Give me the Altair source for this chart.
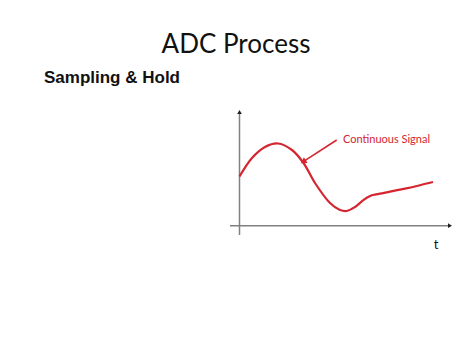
import altair as alt
import pandas as pd

# Continuous signal (time t, amplitude a)
sig_t = [0.0, 0.625, 1.275, 1.925, 2.625, 3.2, 3.775, 4.525, 5.0, 5.36, 5.76, 6.19, 6.53, 6.775, 7.025, 7.525, 8.275, 9.025, 9.675]
sig_a = [4.92, 6.77, 7.87, 8.22, 7.57, 6.27, 4.27, 2.27, 1.6, 1.47, 1.85, 2.55, 2.97, 3.11, 3.2, 3.41, 3.71, 4.05, 4.37]

# axis extents (data units)
x_axis_t = [-0.475, 10.525]
y_axis_a = [-0.93, 11.37]

# annotation arrow (tail -> head)
arrow_t = [4.86, 3.19]
arrow_a = [8.57, 6.40]
label_text = ["Continuous Signal"]
label_t = [5.175]
label_a = [8.57]

RED = "#d42530"
GRAY = "#808080"

xs = alt.Scale(domain=[-11.975, 11.725], nice=False, zero=False)
ys = alt.Scale(domain=[-12.93, 22.57], nice=False, zero=False)

def X(f="t"):
    return alt.X(f"{f}:Q", scale=xs, axis=None)

def Y(f="a"):
    return alt.Y(f"{f}:Q", scale=ys, axis=None)

sig_df = pd.DataFrame({"t": sig_t, "a": sig_a})
xaxis_df = pd.DataFrame({"t": [x_axis_t[0]], "t2": [x_axis_t[1]], "a": [0.0]})
yaxis_df = pd.DataFrame({"t": [0.0], "a": [y_axis_a[0]], "a2": [y_axis_a[1]]})
arrow_df = pd.DataFrame({"t": arrow_t, "a": arrow_a, "o": [0, 1]})
label_df = pd.DataFrame({"t": label_t, "a": label_a, "text": label_text})

x_line = alt.Chart(xaxis_df).mark_rule(color=GRAY, strokeWidth=1.5).encode(
    x=X(), x2="t2:Q", y=Y())
y_line = alt.Chart(yaxis_df).mark_rule(color=GRAY, strokeWidth=1.5).encode(
    x=X(), y=Y(), y2="a2:Q")
x_head = alt.Chart(pd.DataFrame({"t": [x_axis_t[1]], "a": [0.0]})).mark_point(
    shape="triangle-right", filled=True, size=22, color="#222222", opacity=1).encode(x=X(), y=Y())
y_head = alt.Chart(pd.DataFrame({"t": [0.0], "a": [y_axis_a[1]]})).mark_point(
    shape="triangle-up", filled=True, size=22, color="#222222", opacity=1).encode(x=X(), y=Y())

curve = alt.Chart(sig_df).mark_line(color=RED, strokeWidth=2.2, interpolate="catmull-rom").encode(
    x=X(), y=Y())

arrow = alt.Chart(arrow_df).mark_line(color=RED, strokeWidth=1.6).encode(
    x=X(), y=Y(), order="o:Q")
arrow_head = alt.Chart(pd.DataFrame({"t": [arrow_t[1]], "a": [arrow_a[1]]})).mark_point(
    shape="triangle-up", filled=True, size=45, color=RED, opacity=1, angle=237).encode(x=X(), y=Y())

label = alt.Chart(label_df).mark_text(
    align="left", baseline="middle", color=RED, font="Lato", fontSize=11).encode(
    x=X(), y=Y(), text="text:N")

t_label = alt.Chart(pd.DataFrame({"t": [9.825], "a": [-1.93], "text": ["t"]})).mark_text(
    align="center", baseline="middle", color="#111111", font="Lato", fontSize=13).encode(
    x=X(), y=Y(), text="text:N")

title = alt.Chart(pd.DataFrame({"text": ["ADC Process"]})).mark_text(
    align="center", baseline="alphabetic", color="#111111", font="Lato", fontSize=26).encode(
    x=alt.value(236), y=alt.value(53), text="text:N")
subtitle = alt.Chart(pd.DataFrame({"text": ["Sampling & Hold"]})).mark_text(
    align="left", baseline="alphabetic", color="#111111", font="Liberation Sans",
    fontWeight="bold", fontSize=17).encode(
    x=alt.value(44), y=alt.value(82.5), text="text:N")

chart = alt.layer(
    x_line, y_line, x_head, y_head, curve, arrow, arrow_head, label, t_label, title, subtitle
).properties(
    width=474, height=355, autosize=alt.AutoSizeParams(type="none"), padding=0,
    background="white"
).configure_view(stroke=None)

chart.save("out.html", embed_options={"renderer": "svg", "actions": False})
